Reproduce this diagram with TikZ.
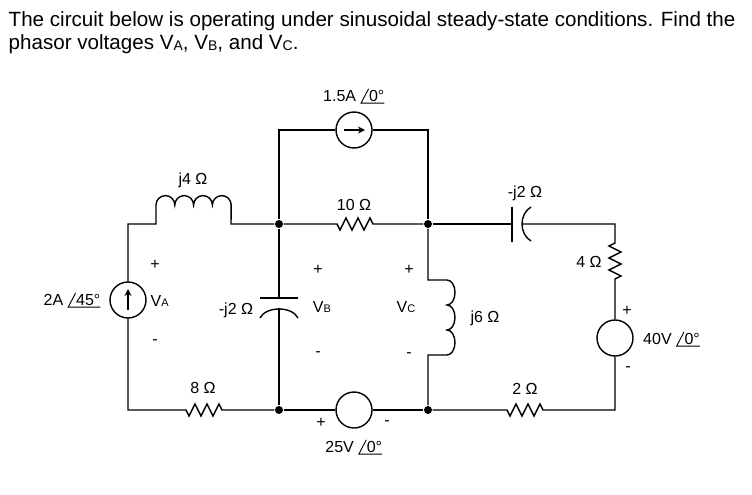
\documentclass[tikz,border=0pt]{standalone}
\usepackage{fontspec}
\setmainfont{Liberation Sans}
\usetikzlibrary{arrows.meta}
\newcommand\pang[1]{\tikz[baseline=(t.base)]{\node[inner sep=0pt,outer sep=0pt] (t) {#1};\draw[line width=0.9pt] ([xshift=-0.5pt,yshift=1pt]t.north west) -- ([xshift=-8pt,yshift=-2pt]t.south west) -- ([yshift=-2pt]t.south east);}}
\newcommand\Vs[1]{V\raisebox{-0.5pt}{\fontsize{11}{12}\selectfont #1}}
\begin{document}
\begin{tikzpicture}[x=1pt,y=-1pt,line width=1.4pt,
  lbl/.style={font=\fontsize{16}{18}\selectfont,inner sep=0pt},
  dot/.style={circle,fill,inner sep=0pt,minimum size=8pt},
  src/.style={circle,draw,minimum size=36pt,inner sep=0pt}]
\useasboundingbox (0,0) rectangle (752,495);
\node[anchor=west,align=left,font=\fontsize{20.6}{23}\selectfont,inner sep=0pt] (title) at (8,33) {The circuit below is operating under sinusoidal steady-state conditions. Find the\\phasor voltages V\raisebox{-0.5pt}{\fontsize{14}{15}\selectfont A}, V\raisebox{-0.5pt}{\fontsize{14}{15}\selectfont B}, and V\raisebox{-0.5pt}{\fontsize{14}{15}\selectfont C}.};
% nodes
\node[dot] (n1) at (279,224) {};
\node[dot] (n2) at (428,224) {};
\node[dot] (n3) at (279,410) {};
\node[dot] (n4) at (428,410) {};
\coordinate (tl) at (128,224); \coordinate (bl) at (128,410);
\coordinate (tr) at (615,224); \coordinate (br) at (615,410);
\coordinate (t1) at (279,130); \coordinate (t2) at (428,130);
\node[src] (sA) at (128,300) {};
\node[src] (s15) at (354,130) {};
\node[src] (s25) at (354,410) {};
\node[src] (s40) at (615,338) {};
\draw[-{Stealth[length=7pt,width=7pt]}] (128,310) -- (128,289);
\draw[-{Stealth[length=7pt,width=7pt]}] (344,130) -- (365,130);
% top loop
\draw (n1) -- (t1) -- (s15) -- (t2) -- (n2);
% left branch
\draw (sA) -- (tl) -- (156,224) -- (156,205)
  arc[start angle=180,end angle=360,radius=9.4] arc[start angle=180,end angle=360,radius=9.4]
  arc[start angle=180,end angle=360,radius=9.4] arc[start angle=180,end angle=360,radius=9.4]
  -- (231,224) -- (n1);
\draw (sA) -- (bl) -- (186,410) -- ++(3,6) -- ++(6,-12) -- ++(6,12) -- ++(6,-12) -- ++(6,12) -- ++(6,-12) -- ++(3,6) -- (n3);
% capacitor -j2
\draw (n1) -- (279,298); \draw (260,298) -- (298,298);
\draw (260,318) .. controls (266,306) and (292,306) .. (298,318);
\draw (279,308) -- (n3);
% 10 ohm
\draw (n1) -- (337,224) -- ++(3,6) -- ++(6,-12) -- ++(6,12) -- ++(6,-12) -- ++(6,12) -- ++(6,-12) -- ++(3,6) -- (n2);
% bottom
\draw (n3) -- (s25) -- (n4);
\draw (n4) -- (507,410) -- ++(3,6) -- ++(6,-12) -- ++(6,12) -- ++(6,-12) -- ++(6,12) -- ++(6,-12) -- ++(3,6) -- (br) -- (s40);
% j6 inductor
\draw (n2) -- (428,280) -- (447,280)
  arc[start angle=-90,end angle=90,x radius=8,y radius=12.5]
  arc[start angle=-90,end angle=90,x radius=8,y radius=12.5]
  arc[start angle=-90,end angle=90,x radius=8,y radius=12.5]
  -- (428,355) -- (n4);
% right cap
\draw (n2) -- (512,224); \draw (512,207) -- (512,242);
\draw (531,207) .. controls (519,214) and (519,234) .. (531,241);
\draw (522,224) -- (tr) -- (615,243) -- ++(-6,3) -- ++(12,6) -- ++(-12,6) -- ++(12,6) -- ++(-12,6) -- ++(12,6) -- ++(-6,3) -- (s40);
% labels
\node[lbl] (lj4) at (193,180) {j4 Ω};
\node[lbl] (l10) at (354,205) {10 Ω};
\node[lbl] (lc2) at (525,193) {-j2 Ω};
\node[lbl] (l4) at (589,262) {4 Ω};
\node[lbl] (lj6) at (485,318) {j6 Ω};
\node[lbl] (l2) at (525,389) {2 Ω};
\node[lbl] (l8) at (203,388) {8 Ω};
\node[lbl] (lc1) at (236,310) {-j2 Ω};
\node[lbl] (pa) at (155,265) {+};
\node[lbl,anchor=west] (va) at (150,301) {\Vs{A}};
\node[lbl] (ma) at (155,342) {-};
\node[lbl] (pb) at (318,270) {+};
\node[lbl] (vb) at (322,307) {\Vs{B}};
\node[lbl] (mb) at (318,354) {-};
\node[lbl] (pc) at (409,270) {+};
\node[lbl] (vc) at (406,307) {\Vs{C}};
\node[lbl] (mc) at (409,355) {-};
\node[lbl] (p25) at (321,423) {+};
\node[lbl] (m25) at (387,423) {-};
\node[lbl] (p40) at (627,311) {+};
\node[lbl] (m40) at (628,369) {-};
\node[lbl] (l15) at (354,96) {1.5A \pang{0°}};
\node[lbl] (l25) at (354,447) {25V \pang{0°}};
\node[lbl,anchor=east] (l2a) at (101,300) {2A \pang{45°}};
\node[lbl,anchor=west] (l40) at (643,339) {40V \pang{0°}};
\end{tikzpicture}
\end{document}
